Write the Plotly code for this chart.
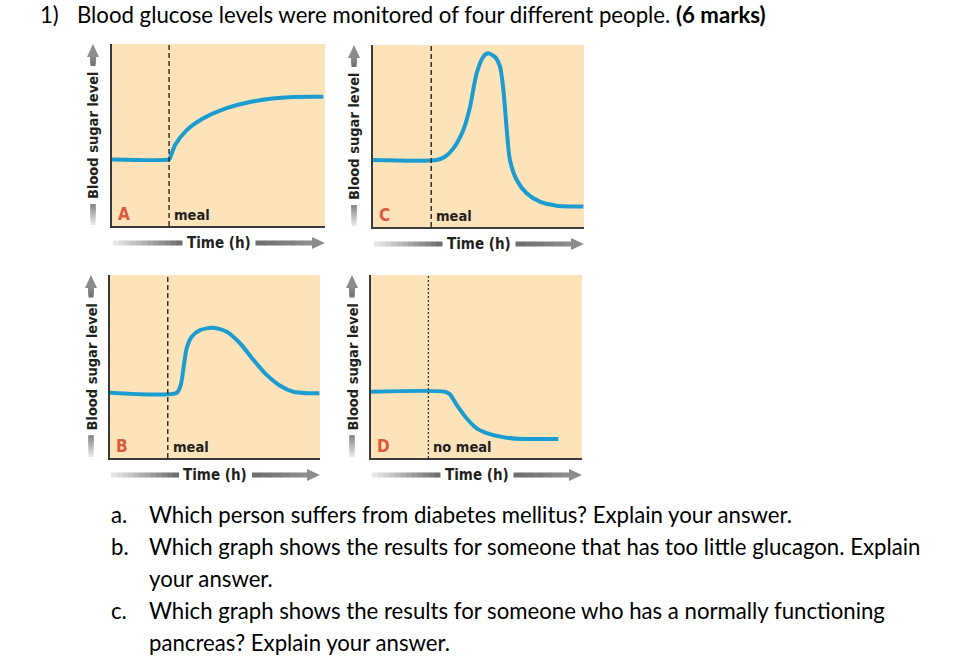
import plotly.graph_objects as go

W, H = 979, 659

a_time = [0, 2.68, 2.72, 2.96, 3.51, 4.29, 5.22, 6.32, 7.42, 8.51, 9.92]
a_level = [3.66, 3.66, 3.72, 4.45, 5.27, 5.92, 6.41, 6.77, 6.99, 7.09, 7.10]

b_time = [0, 3.18, 3.37, 3.52, 3.65, 3.89, 4.29, 4.92, 5.56, 6.19, 6.83, 7.46, 8.10, 8.73, 9.37, 9.97]
b_level = [3.57, 3.57, 3.99, 5.08, 5.99, 6.63, 6.99, 7.12, 6.90, 6.27, 5.36, 4.54, 3.95, 3.62, 3.54, 3.54]

c_time = [0, 3.02, 3.41, 3.81, 4.28, 4.60, 4.91, 5.23, 5.46, 5.78, 6.02, 6.18, 6.34, 6.49, 6.81, 7.28, 7.91, 8.71, 9.97]
c_level = [3.68, 3.68, 3.86, 4.32, 5.33, 6.61, 8.44, 9.36, 9.54, 9.34, 8.81, 7.53, 5.33, 3.68, 2.58, 1.85, 1.39, 1.17, 1.12]

d_time = [0, 3.51, 3.74, 4.06, 4.53, 5.01, 5.64, 6.43, 7.22, 8.88]
d_level = [3.62, 3.62, 3.48, 2.90, 2.17, 1.62, 1.30, 1.11, 1.04, 1.04]

panel_names = ["A", "C", "B", "D"]
event_time = [2.68, 2.76, 2.75, 2.72]
event_text = ["meal", "meal", "meal", "no meal"]

title_text = "Blood glucose levels were monitored of four different people. <b>(6 marks)</b>"
question_labels = ["a.", "b.", "", "c.", ""]
question_lines = [
    "Which person suffers from diabetes mellitus? Explain your answer.",
    "Which graph shows the results for someone that has too little glucagon. Explain",
    "your answer.",
    "Which graph shows the results for someone who has a normally functioning",
    "pancreas? Explain your answer.",
]

# ---- layout helpers (pixel boxes of each panel: left, top, right, bottom) ----
boxes = [(112, 44, 325, 226), (373, 45, 584, 227), (110, 275, 320, 458), (371, 275, 582, 458)]
series = [(a_time, a_level), (c_time, c_level), (b_time, b_level), (d_time, d_level)]

FILL = "#fde3ba"
CURVE = "#1b9dd2"
INK = "#231f20"
LETTER = "#dc5a3c"
NARROW = "Liberation Sans Narrow, DejaVu Sans Condensed, Arial Narrow, Roboto, sans-serif"
BODY = "Lato, Carlito, Calibri, sans-serif"
BODY_SIZE = 22.2


def fx(p):
    return p / W


def fy(p):
    return 1 - p / H


def mix(c0, c1, t):
    a = [int(c0[i:i + 2], 16) for i in (1, 3, 5)]
    b = [int(c1[i:i + 2], 16) for i in (1, 3, 5)]
    return "rgb(%d,%d,%d)" % tuple(round(a[k] + (b[k] - a[k]) * t) for k in range(3))


def hbar(x0, x1, yc, th, c0, c1, n=12):
    out = []
    for i in range(n):
        xa = x0 + (x1 - x0) * i / n
        xb = x0 + (x1 - x0) * (i + 1) / n + 0.6
        out.append(dict(type="rect", xref="paper", yref="paper", layer="above",
                        x0=fx(xa), x1=fx(min(xb, x1)), y0=fy(yc + th / 2), y1=fy(yc - th / 2),
                        fillcolor=mix(c0, c1, i / (n - 1)), line_width=0))
    return out


def vbar(xc, y0, y1, th, c0, c1, n=12):
    out = []
    for i in range(n):
        ya = y0 + (y1 - y0) * i / n
        yb = y0 + (y1 - y0) * (i + 1) / n + 0.6
        out.append(dict(type="rect", xref="paper", yref="paper", layer="above",
                        x0=fx(xc - th / 2), x1=fx(xc + th / 2), y0=fy(ya), y1=fy(min(yb, y1)),
                        fillcolor=mix(c0, c1, i / (n - 1)), line_width=0))
    return out


def tri(points, color):
    path = "M " + " L ".join("%f,%f" % (fx(a), fy(b)) for a, b in points) + " Z"
    return dict(type="path", xref="paper", yref="paper", layer="above", path=path,
                fillcolor=color, line_width=0)


fig = go.Figure()
shapes = []
annotations = []

for i, (name, box, (t, lv)) in enumerate(zip(panel_names, boxes, series)):
    sfx = "" if i == 0 else str(i + 1)
    left, top, right, bottom = box
    fig.add_trace(go.Scatter(
        x=t, y=lv, mode="lines", xaxis="x" + sfx, yaxis="y" + sfx,
        line=dict(color=CURVE, width=4, shape="spline", smoothing=0.7),
        hoverinfo="skip", showlegend=False,
    ))
    axis_common = dict(range=[0, 10], showgrid=False, zeroline=False, showticklabels=False,
                       ticks="", showline=True, linecolor="#3a3a3a", linewidth=2, fixedrange=True)
    fig.update_layout(**{
        "xaxis" + sfx: dict(axis_common, domain=[fx(left), fx(right)], anchor="y" + sfx),
        "yaxis" + sfx: dict(axis_common, domain=[fy(bottom), fy(top)], anchor="x" + sfx),
    })

    # meal marker
    shapes.append(dict(type="line", xref="x" + sfx, yref="y" + sfx + " domain",
                       x0=event_time[i], x1=event_time[i], y0=0, y1=1,
                       line=dict(color="#333333", width=1.5 if name != "D" else 1.3,
                                 dash="5px,3px" if name != "D" else "2px,2px")))
    annotations.append(dict(xref="x" + sfx, yref="y" + sfx + " domain", x=event_time[i], y=0,
                            xanchor="left", yanchor="bottom", xshift=3, yshift=1, showarrow=False,
                            text="<b>%s</b>" % event_text[i],
                            font=dict(family=NARROW, size=14.5, color=INK)))
    annotations.append(dict(xref="x" + sfx + " domain", yref="y" + sfx + " domain", x=0, y=0,
                            xanchor="left", yanchor="bottom", xshift=4, yshift=0, showarrow=False,
                            text="<b>%s</b>" % name, font=dict(family=NARROW, size=17, color=LETTER)))

    # x-axis caption with arrows
    cx = (left + right) / 2
    ty = bottom + 17
    annotations.append(dict(xref="paper", yref="paper", x=fx(cx), y=fy(ty), xanchor="center",
                            yanchor="middle", showarrow=False, text="<b>Time (h)</b>",
                            font=dict(family=NARROW, size=15, color=INK)))
    shapes += hbar(left + 1, cx - 36, ty, 5, "#e6e6e6", "#6f6f6f")
    shapes += hbar(cx + 37, right - 12, ty, 5, "#6f6f6f", "#8c8c8c", n=6)
    shapes.append(tri([(right, ty), (right - 13, ty - 6), (right - 13, ty + 6)], "#8c8c8c"))

    # y-axis caption with arrows
    lx = left - 19
    cy = (top + bottom) / 2
    annotations.append(dict(xref="paper", yref="paper", x=fx(lx), y=fy(cy), xanchor="center",
                            yanchor="middle", textangle=-90, showarrow=False,
                            text="<b>Blood sugar level</b>",
                            font=dict(family=NARROW, size=14.5, color=INK)))
    shapes += vbar(lx, cy - 69, top + 12, 5, "#6f6f6f", "#8c8c8c", n=6)
    shapes.append(tri([(lx, top), (lx - 6, top + 13), (lx + 6, top + 13)], "#8c8c8c"))
    shapes += vbar(lx, bottom - 1, cy + 69, 5, "#e6e6e6", "#8a8a8a", n=8)

# heading
annotations.append(dict(xref="paper", yref="paper", x=fx(38), y=fy(15), xanchor="left",
                        yanchor="middle", showarrow=False, text="1)",
                        font=dict(family=BODY, size=BODY_SIZE, color="#000000")))
annotations.append(dict(xref="paper", yref="paper", x=fx(75), y=fy(15), xanchor="left",
                        yanchor="middle", showarrow=False, text=title_text,
                        font=dict(family=BODY, size=BODY_SIZE, color="#000000")))

# questions
line_y = [514, 546, 578, 610, 642]
for lab, txt, yy in zip(question_labels, question_lines, line_y):
    if lab:
        annotations.append(dict(xref="paper", yref="paper", x=fx(109), y=fy(yy), xanchor="left",
                                yanchor="middle", showarrow=False, text=lab,
                                font=dict(family=BODY, size=BODY_SIZE, color="#000000")))
    annotations.append(dict(xref="paper", yref="paper", x=fx(147), y=fy(yy), xanchor="left",
                            yanchor="middle", showarrow=False, text=txt,
                            font=dict(family=BODY, size=BODY_SIZE, color="#000000")))

fig.update_layout(
    width=W, height=H,
    margin=dict(l=0, r=0, t=0, b=0),
    paper_bgcolor="white",
    plot_bgcolor=FILL,
    shapes=shapes,
    annotations=annotations,
    showlegend=False,
)

# drop the browser's default page margin so the figure sits at the top-left corner
fig.write_html("out.html", config={"displayModeBar": False},
               post_script="document.body.style.margin='0';")
